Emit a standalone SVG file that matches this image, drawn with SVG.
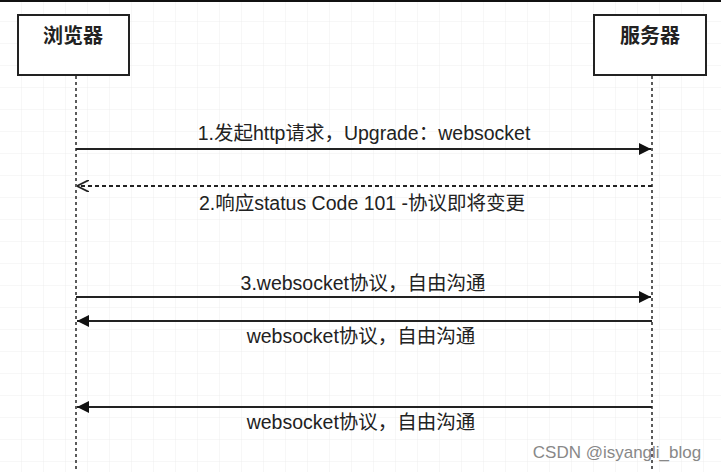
<svg xmlns="http://www.w3.org/2000/svg" width="721" height="472" viewBox="0 0 721 472">
<style>
.box{fill:#fff;stroke:#222;stroke-width:2}
.life{stroke:#333;stroke-width:1.6;stroke-dasharray:3 3}
.msg{stroke:#222;stroke-width:2;fill:none}
.t{font-family:"Liberation Sans","Noto Sans CJK SC",sans-serif;font-size:19.5px;fill:#222;text-anchor:middle}
.h{font-weight:bold;font-size:20px}
</style>
<defs>
<pattern id="g" width="22" height="22" patternUnits="userSpaceOnUse"><path d="M22 0V22H0" fill="none" stroke="#eee" stroke-width="1"/></pattern>
<marker id="fa" viewBox="0 0 10 10" refX="10" refY="5" markerWidth="14" markerHeight="12" markerUnits="userSpaceOnUse" orient="auto"><path d="M0 0L10 5L0 10Z" fill="#111"/></marker>
<marker id="oa" viewBox="0 0 10 10" refX="10" refY="5" markerWidth="12" markerHeight="12" markerUnits="userSpaceOnUse" orient="auto"><path d="M0 0L10 5L0 10" fill="none" stroke="#222" stroke-width="1.5"/></marker>
</defs>
<rect width="721" height="472" fill="#fff"/>
<rect width="721" height="472" fill="url(#g)"/>
<rect width="721" height="2" fill="#111"/>
<g id="browser"><rect class="box" x="18" y="15" width="111" height="60"/><text class="t h" x="73" y="43">浏览器</text></g>
<g id="server"><rect class="box" x="594" y="15" width="112" height="60"/><text class="t h" x="650" y="43">服务器</text></g>
<g id="connectors">
<line class="life" x1="76" y1="76" x2="76" y2="472"/>
<line class="life" x1="652" y1="76" x2="652" y2="472"/>
<line class="msg" x1="76" y1="149" x2="651" y2="149" marker-end="url(#fa)"/>
<line class="msg" x1="652" y1="186" x2="77" y2="186" stroke-dasharray="4 3" stroke-width="1.5" marker-end="url(#oa)"/>
<line class="msg" x1="76" y1="297" x2="651" y2="297" marker-end="url(#fa)"/>
<line class="msg" x1="652" y1="321" x2="77" y2="321" marker-end="url(#fa)"/>
<line class="msg" x1="652" y1="407" x2="77" y2="407" marker-end="url(#fa)"/>
</g>
<g id="labels">
<text class="t" x="364" y="140">1.发起http请求，Upgrade：websocket</text>
<text class="t" x="362" y="210">2.响应status Code 101 -协议即将变更</text>
<text class="t" x="363" y="290">3.websocket协议，自由沟通</text>
<text class="t" x="361" y="343">websocket协议，自由沟通</text>
<text class="t" x="361" y="429">websocket协议，自由沟通</text>
<text x="617" y="458" style="font-family:'Liberation Sans',sans-serif;font-size:17px;fill:#888;text-anchor:middle">CSDN @isyangli_blog</text>
</g>
</svg>
